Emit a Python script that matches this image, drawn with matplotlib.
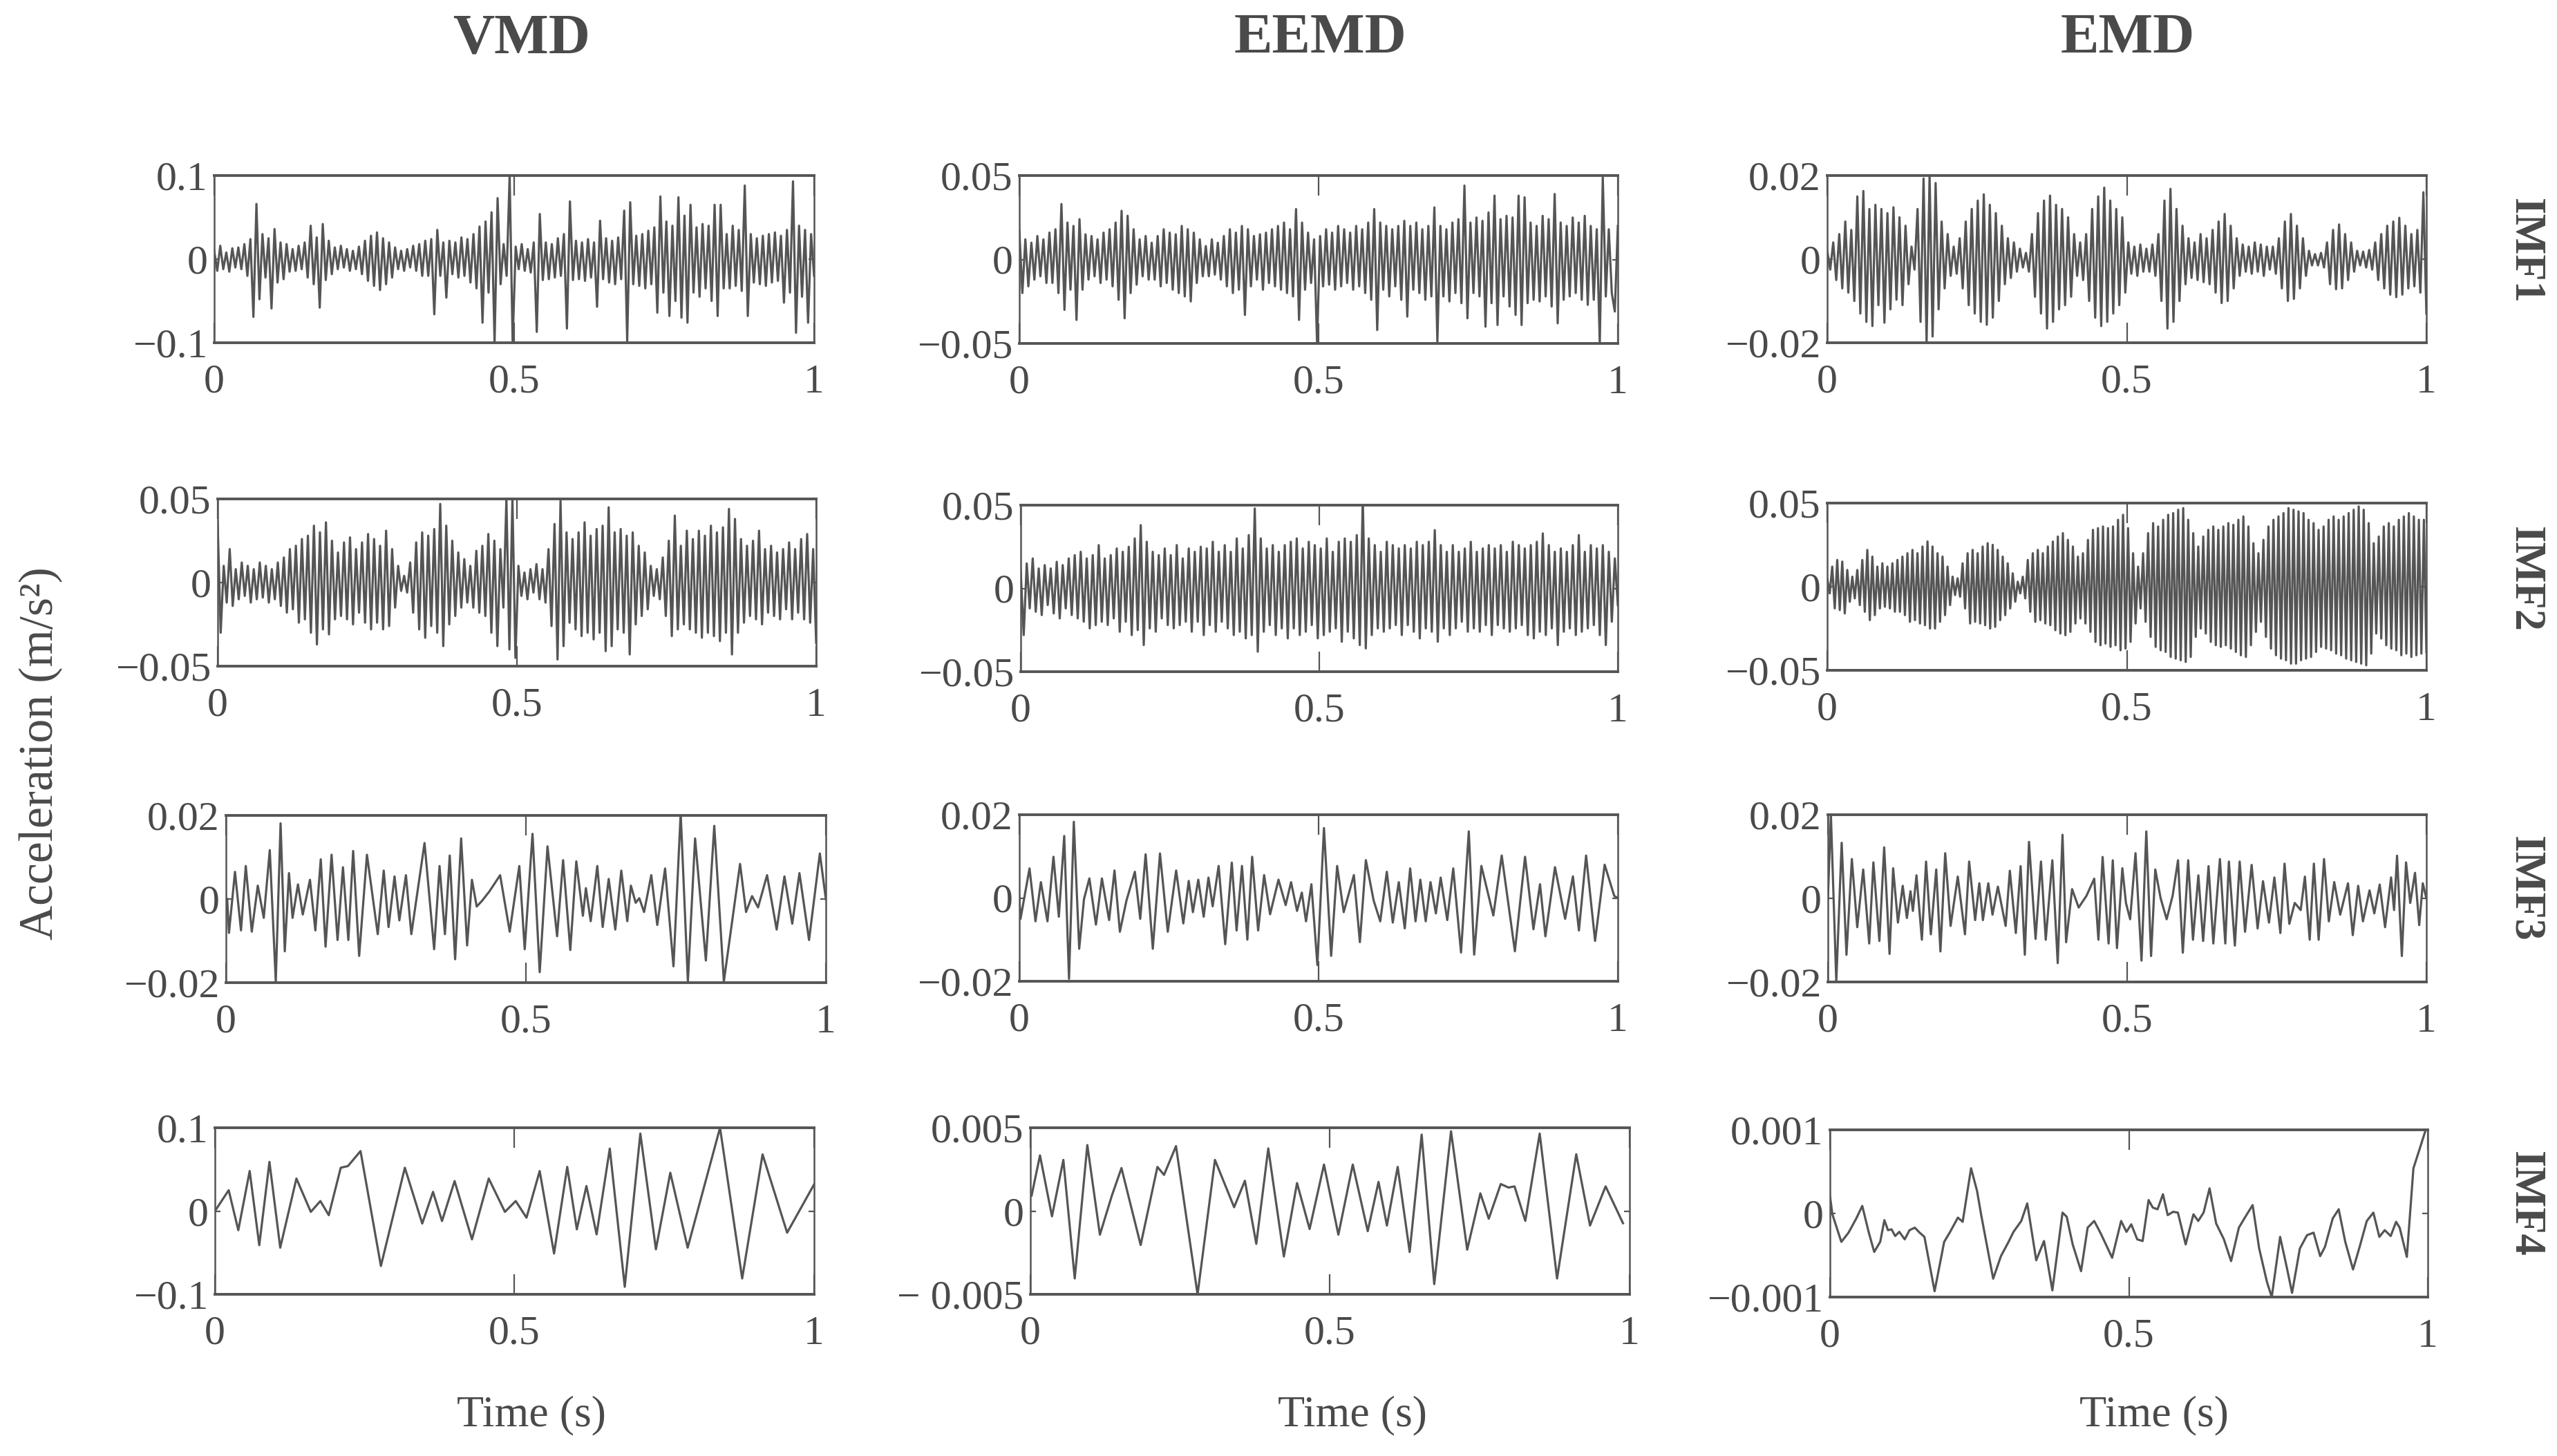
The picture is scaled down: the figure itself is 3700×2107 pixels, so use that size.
import matplotlib.pyplot as plt
import numpy as np

plt.rcParams["font.family"] = ["Liberation Serif", "DejaVu Serif"]

INK = "#555555"
TEXT = "#4a4a4a"
W, H = 3700, 2107

# ---------------------------------------------------------------------------
# Data.
# IMF1 / IMF2 are dense: successive extrema, evenly spaced over 0-1 s.
# IMF3 / IMF4: extrema with their time in ms.
# ---------------------------------------------------------------------------

# x1e-3 m/s^2
vmd_imf1 = [
    10, -14, 16, -12, 8, -15, 13, -10, 14, -12,
    18, -20, 24, -69, 66, -48, 30, -22, 25, -59,
    36, -28, 20, -24, 18, -15, 12, -14, 16, -12,
    20, -22, 40, -30, 26, -58, 42, -25, 22, -18,
    14, -12, 16, -10, 12, -14, 10, -12, 15, -18,
    22, -26, 28, -32, 32, -37, 25, -30, 20, -22,
    14, -12, 10, -14, 12, -10, 16, -14, 18, -20,
    22, -20, 24, -66, 35, -20, 20, -46, 22, -18,
    20, -22, 26, -20, 24, -28, 30, -35, 39, -76,
    45, -40, 56, -100, 73, -30, 18, -20, 100, -100,
    15, -12, 18, -14, 12, -16, 20, -87, 54, -25,
    20, -24, 18, -22, 25, -20, 30, -83, 69, -25,
    22, -24, 20, -26, 24, -22, 20, -57, 46, -24,
    25, -28, 22, -30, 26, -24, 58, -98, 68, -30,
    28, -32, 30, -35, 34, -30, 38, -64, 75, -40,
    45, -68, 40, -50, 74, -70, 52, -76, 65, -40,
    38, -45, 42, -35, 40, -50, 65, -68, 65, -35,
    30, -35, 40, -32, 35, -38, 88, -68, 30, -28,
    25, -30, 28, -32, 30, -28, 32, -26, 28, -52,
    35, -40, 93, -88, 40, -45, 35, -76, 30, -20,
]

# x1e-3 m/s^2
eemd_imf1 = [
    17, -20, 12, -16, 10, -12, 14, -10, 12, -14,
    16, -14, 18, -20, 33, -30, 22, -18, 20, -36,
    24, -18, 15, -12, 14, -10, 12, -14, 16, -12,
    18, -16, 22, -24, 29, -35, 26, -20, 18, -15,
    12, -10, 14, -12, 10, -12, 14, -16, 18, -14,
    16, -18, 15, -20, 20, -22, 18, -25, 16, -14,
    12, -10, 8, -10, 12, -9, 10, -12, 14, -16,
    18, -20, 16, -18, 20, -33, 18, -16, 14, -12,
    15, -18, 16, -14, 18, -16, 20, -18, 22, -20,
    18, -22, 30, -36, 22, -18, 16, -14, 12, -50,
    14, -16, 18, -15, 16, -18, 20, -16, 18, -14,
    16, -18, 20, -16, 18, -20, 22, -24, 30, -42,
    22, -18, 20, -22, 18, -16, 20, -24, 23, -34,
    20, -18, 22, -20, 18, -24, 20, -22, 31, -49,
    20, -22, 18, -25, 22, -20, 24, -26, 44, -35,
    22, -20, 25, -22, 23, -40, 28, -26, 38, -39,
    24, -22, 26, -28, 25, -33, 38, -39, 37, -26,
    22, -24, 20, -25, 26, -22, 24, -28, 39, -38,
    22, -24, 20, -22, 25, -20, 22, -24, 26, -27,
    20, -24, 18, -50, 49, -22, 18, -20, -31, 20,
]

# x1e-4 m/s^2
emd_imf1 = [
    20, -25, 40, -50, 60, -70, 90, -80, 70, -100,
    150, -130, 163, -150, 120, -160, 130, -110, 120, -152,
    110, -120, 124, -97, 100, -110, 80, -60, 30, -25,
    120, -150, 193, -199, 200, -185, 182, -120, 90, -70,
    60, -40, 30, -35, 50, -70, 90, -110, 120, -130,
    140, -150, 155, -157, 130, -140, 110, -100, 80, -60,
    50, -45, 40, -30, 25, -20, 15, -30, 60, -90,
    110, -130, 140, -166, 152, -150, 130, -120, 120, -110,
    100, -90, 60, -40, 40, -50, 60, -100, 120, -140,
    150, -160, 171, -150, 140, -130, 120, -110, 100, -80,
    40, -35, 30, -40, 35, -30, 25, -30, 35, -40,
    60, -100, 140, -166, 168, -150, 120, -100, 80, -60,
    50, -45, 40, -50, 60, -55, 50, -60, 70, -80,
    90, -105, 108, -100, 80, -70, 50, -40, 35, -30,
    30, -35, 40, -30, 35, -40, 30, -25, 30, -35,
    50, -70, 90, -100, 108, -95, 80, -70, 50, -40,
    20, -15, 12, -15, 15, -20, 40, -60, 70, -72,
    83, -70, 60, -50, 40, -30, 20, -15, 18, -20,
    22, -25, 40, -50, 60, -70, 80, -85, 90, -91,
    99, -85, 80, -70, 60, -65, 70, -80, 160, -130,
]

# x1e-3 m/s^2
vmd_imf2 = [
    35, -30, 10, -12, 20, -14, 8, -10, 12, -8,
    10, -12, 8, -10, 12, -9, 10, -12, 8, -10,
    12, -14, 15, -18, 20, -16, 22, -24, 26, -22,
    28, -30, 34, -37, 30, -28, 36, -31, 25, -22,
    18, -20, 24, -22, 27, -25, 20, -18, 24, -24,
    29, -28, 26, -24, 22, -28, 31, -26, 20, -15,
    10, -5, 4, -6, 12, -18, 24, -28, 30, -33,
    28, -26, 32, -30, 47, -38, 34, -25, 25, -20,
    18, -15, 14, -12, 10, -15, 19, -18, 22, -20,
    29, -30, 25, -38, 20, -15, 50, -40, 50, -45,
    10, -8, 6, -10, 8, -6, 11, -10, 8, -12,
    20, -26, 35, -46, 49, -38, 30, -24, 26, -28,
    30, -32, 36, -30, 28, -34, 32, -30, 34, -41,
    45, -38, 30, -28, 32, -30, 28, -43, 30, -25,
    22, -20, 18, -16, 10, -8, 8, -10, 15, -20,
    25, -32, 40, -28, 22, -25, 31, -28, 26, -30,
    31, -33, 28, -30, 34, -32, 30, -35, 33, -30,
    44, -43, 38, -30, 26, -24, 22, -20, 25, -22,
    31, -25, 20, -18, 22, -20, 18, -22, 20, -16,
    24, -22, 20, -18, 26, -22, 29, -24, 20, -36,
]

# x1e-3 m/s^2
eemd_imf2 = [
    10, -28, 15, -12, 18, -14, 12, -16, 14, -10,
    12, -15, 16, -18, 14, -12, 18, -16, 20, -18,
    22, -20, 18, -24, 20, -22, 26, -20, 18, -22,
    20, -18, 24, -26, 22, -20, 25, -28, 30, -25,
    38, -34, 28, -24, 22, -26, 20, -18, 24, -22,
    20, -24, 26, -22, 18, -20, 24, -26, 22, -20,
    25, -28, 24, -22, 28, -26, 22, -20, 26, -24,
    22, -28, 30, -26, 24, -30, 32, -28, 48, -38,
    30, -26, 24, -22, 26, -28, 22, -24, 26, -30,
    28, -24, 30, -28, 24, -26, 28, -22, 26, -30,
    24, -28, 30, -26, 22, -24, 28, -32, 30, -26,
    28, -30, 32, -34, 54, -36, 30, -28, 26, -24,
    22, -26, 28, -24, 26, -22, 24, -28, 26, -22,
    24, -26, 28, -30, 26, -24, 28, -26, 35, -32,
    26, -24, 22, -28, 26, -24, 22, -20, 24, -26,
    28, -24, 22, -26, 24, -22, 26, -28, 24, -22,
    26, -24, 22, -26, 28, -24, 26, -22, 24, -28,
    26, -30, 28, -26, 33, -28, 26, -24, 22, -34,
    24, -26, 22, -24, 26, -28, 32, -26, 22, -24,
    26, -22, 24, -28, 26, -34, 22, -20, 18, -10,
]

# x1e-3 m/s^2
emd_imf2 = [
    5, -4, 12, -13, 16, -14, 15, -16, 10, -9,
    6, -7, 10, -11, 16, -15, 22, -20, 18, -17,
    12, -13, 14, -12, 12, -13, 14, -15, 16, -15,
    18, -17, 20, -21, 22, -20, 20, -22, 24, -23,
    27, -25, 24, -25, 20, -21, 18, -17, 12, -11,
    6, -5, 5, -6, 14, -13, 20, -22, 22, -21,
    20, -22, 24, -23, 26, -25, 25, -24, 22, -20,
    18, -17, 14, -13, 8, -9, 3, -4, 6, -7,
    16, -15, 20, -21, 22, -20, 20, -22, 24, -23,
    27, -26, 30, -28, 32, -29, 28, -27, 24, -22,
    18, -19, 20, -22, 28, -27, 34, -33, 35, -35,
    36, -34, 35, -36, 36, -35, 40, -38, 43, -37,
    35, -33, 20, -22, 12, -13, 20, -21, 32, -30,
    38, -36, 36, -38, 40, -39, 43, -42, 44, -43,
    46, -44, 47, -45, 40, -42, 32, -30, 24, -25,
    30, -28, 34, -33, 36, -35, 34, -36, 36, -35,
    38, -37, 37, -39, 40, -41, 42, -42, 36, -35,
    26, -27, 20, -21, 28, -30, 36, -37, 40, -41,
    42, -43, 44, -44, 47, -46, 46, -46, 45, -44,
    44, -43, 40, -42, 38, -39, 34, -36, 36, -37,
    40, -38, 42, -40, 40, -41, 42, -43, 44, -44,
    46, -45, 48, -46, 46, -47, 38, -40, 26, -28,
    30, -31, 36, -35, 38, -37, 36, -38, 40, -41,
    42, -40, 44, -42, 42, -41, 40, -40, 40, -39,
]

# IMF3, x1e-4 m/s^2, times in ms
vmd_imf3_ms = [
    2, 5, 15, 25, 33, 43, 53, 63, 73, 83, 91, 98, 105, 111, 120, 128, 140,
    149, 158, 166, 176, 186, 195, 204, 212, 222, 235, 253, 263, 271, 281,
    289, 300, 309, 331, 347, 356, 365, 373, 382, 392, 402, 410, 418, 427,
    439, 457, 473, 489, 498, 511, 523, 536, 552, 562, 574, 584, 595, 600,
    608, 619, 628, 638, 649, 659, 669, 675, 683, 689, 697, 709, 719, 732,
    746, 758, 770, 782, 800, 814, 830, 857, 867, 877, 887, 902, 918, 931,
    944, 956, 972, 990, 1000,
]
vmd_imf3 = [
    0, -81, 65, -75, 79, -78, 32, -45, 117, -197, 181, -125, 62, -45, 35,
    -37, 46, -75, 95, -114, 106, -98, 76, -98, 115, -136, 106, -84, 68, -67,
    54, -51, 57, -84, 134, -120, 79, -84, 104, -144, 145, -111, 46, -18, -4,
    18, 57, -78, 79, -120, 156, -175, 126, -89, 93, -122, 90, -40, 26, -53,
    79, -67, 48, -73, 68, -53, 32, -9, 2, -31, 57, -62, 73, -161, 205, -197,
    145, -147, 175, -197, 84, -31, 7, -20, 57, -73, 54, -59, 62, -98, 109, 0,
]

eemd_imf3_ms = [
    0, 2, 17, 27, 36, 47, 57, 66, 75, 83, 91, 100, 108, 117, 128, 138, 150,
    159, 168, 179, 193, 202, 211, 223, 235, 248, 262, 274, 283, 290, 299,
    308, 316, 323, 333, 344, 355, 363, 372, 381, 389, 399, 409, 419, 433,
    445, 454, 464, 472, 479, 488, 498, 509, 521, 531, 542, 559, 569, 579,
    592, 603, 614, 624, 634, 644, 653, 662, 670, 679, 687, 696, 704, 715,
    725, 738, 751, 760, 772, 792, 806, 828, 845, 859, 870, 879, 895, 912,
    925, 935, 947, 962, 978, 994, 1000,
]
eemd_imf3 = [
    0, -50, 71, -56, 38, -56, 99, -45, 149, -194, 183, -122, -3, 47, -64,
    47, -53, 66, -81, -6, 63, -50, 105, -122, 107, -81, 66, -61, 41, -34,
    44, -45, 49, -20, 77, -111, 85, -78, 77, -100, 99, -78, 55, -39, 44,
    -17, 38, -31, 13, -56, 33, -161, 168, -139, 77, -34, 55, -106, 91, -6,
    -56, 63, -59, 38, -73, 71, -56, 44, -56, 38, -37, 49, -53, 71, -131,
    160, -136, 77, -42, 102, -128, 99, -75, 33, -92, 74, -50, 52, -78, 102,
    -103, 80, 5, 0,
]

emd_imf3_ms = [
    0, 5, 14, 23, 31, 40, 49, 59, 69, 76, 86, 94, 103, 109, 117, 125, 132,
    138, 142, 148, 157, 164, 172, 181, 188, 196, 205, 217, 229, 236, 246,
    253, 259, 268, 275, 284, 297, 304, 314, 322, 329, 336, 347, 356, 364,
    375, 384, 392, 398, 408, 419, 432, 445, 452, 459, 469, 476, 483, 492,
    498, 505, 514, 524, 532, 540, 547, 556, 566, 576, 585, 593, 602, 610,
    619, 627, 636, 644, 655, 664, 670, 680, 688, 697, 708, 718, 727, 737,
    746, 756, 763, 771, 780, 790, 797, 805, 812, 820, 829, 837, 846, 856,
    869, 877, 886, 894, 905, 913, 922, 931, 941, 946, 951, 959, 966, 973,
    981, 988, 994, 1000,
]
emd_imf3 = [
    0, 199, -199, 133, -135, 94, -69, 69, -108, 86, -102, 122, -133, 72, -58,
    30, -47, 17, -30, 55, -99, 88, -86, 69, -127, 108, -66, 52, -86, 88, -52,
    36, -52, 36, -39, 28, -66, 66, -83, 77, -135, 135, -97, 88, -99, 91,
    -155, 152, -105, 22, -22, 6, 47, -99, 99, -108, 91, -119, 72, -11, -50,
    108, -149, 160, -138, 69, 0, -50, 6, 91, -130, 91, -99, 55, -102, 77,
    -108, 94, -108, 88, -113, 88, -80, 80, -72, 41, -58, 50, -83, 83, -61,
    -11, -28, 52, -99, 83, -99, 94, -55, 39, -39, 36, -88, 30, -55, 19, -36,
    33, -69, 50, -28, 102, -138, 86, -11, 61, -64, 36, 0,
]

# IMF4, times in ms
vmd_imf4_ms = [
    0, 23, 39, 58, 74, 91, 109, 136, 160, 176, 190, 210, 222, 243, 277, 317,
    346, 364, 379, 400, 429, 457, 484, 502, 520, 542, 566, 588, 604, 620,
    637, 659, 684, 710, 736, 760, 789, 843, 880, 914, 955, 1000,
]
vmd_imf4 = [  # x1e-3 m/s^2
    0, 25, -23, 48, -41, 59, -44, 39, -1, 12, -5, 52, 54, 72, -66, 52, -15,
    23, -12, 36, -34, 39, -1, 12, -8, 48, -51, 53, -22, 30, -28, 75, -91, 93,
    -46, 46, -44, 100, -81, 68, -26, 32,
]

eemd_imf4_ms = [
    2, 16, 36, 55, 74, 95, 116, 136, 152, 184, 212, 223, 243, 279, 308, 340,
    358, 377, 397, 423, 445, 466, 490, 514, 538, 563, 581, 595, 613, 633,
    653, 674, 702, 729, 751, 765, 785, 798, 808, 826, 850, 879, 911, 934,
    960, 989,
]
eemd_imf4 = [  # x1e-5 m/s^2
    93, 334, -32, 307, -405, 396, -142, 93, 258, -204, 265, 217, 390, -501,
    307, 23, 182, -197, 376, -273, 168, -108, 279, -142, 279, -121, 175, -87,
    265, -246, 459, -439, 479, -232, 106, -46, 162, 141, 148, -59, 465, -405,
    341, -87, 148, -73,
]

emd_imf4_ms = [
    0, 4, 19, 31, 44, 54, 65, 74, 84, 91, 97, 103, 109, 116, 125, 133, 142,
    150, 158, 175, 191, 201, 214, 222, 236, 246, 253, 273, 286, 298, 307,
    320, 330, 336, 345, 358, 372, 389, 396, 406, 420, 431, 442, 453, 472,
    487, 496, 504, 514, 523, 533, 540, 548, 557, 565, 574, 582, 595, 608,
    616, 625, 635, 646, 659, 671, 684, 694, 707, 718, 731, 739, 753, 764,
    773, 786, 798, 809, 820, 828, 841, 851, 862, 875, 886, 898, 909, 919,
    928, 938, 947, 953, 965, 976, 985, 997,
]
emd_imf4 = [  # x1e-5 m/s^2
    21, -1, -34, -23, -6, 9, -23, -46, -34, -8, -20, -19, -27, -22, -31, -20,
    -17, -23, -28, -93, -34, -22, -5, -10, 54, 27, -2, -78, -51, -35, -22,
    -9, 12, -15, -56, -33, -92, 1, -4, -37, -69, -17, -9, -24, -53, -9, -22,
    -13, -31, -33, 16, 7, 5, 23, -2, 2, 1, -37, -1, -9, 1, 30, -12, -31, -57,
    -17, -5, 10, -42, -82, -100, -28, -64, -95, -42, -26, -23, -51, -40, -6,
    5, -34, -67, -40, -9, 1, -28, -20, -27, -10, -17, -52, 54, 74, 101,
]

methods = ["VMD", "EEMD", "EMD"]
imfs = ["IMF1", "IMF2", "IMF3", "IMF4"]
y_limits = [
    [0.1, 0.05, 0.02],
    [0.05, 0.05, 0.05],
    [0.02, 0.02, 0.02],
    [0.1, 0.005, 0.001],
]
y_ticklabels = [
    [["\u22120.1", "0", "0.1"], ["\u22120.05", "0", "0.05"], ["\u22120.02", "0", "0.02"]],
    [["\u22120.05", "0", "0.05"]] * 3,
    [["\u22120.02", "0", "0.02"]] * 3,
    [["\u22120.1", "0", "0.1"], ["\u2212 0.005", "0", "0.005"], ["\u22120.001", "0", "0.001"]],
]
x_ticks = [0, 0.5, 1]
x_ticklabels = ["0", "0.5", "1"]

# (times in ms or None for evenly spaced, values, unit)
series = [
    [(None, vmd_imf1, 1e-3), (None, eemd_imf1, 1e-3), (None, emd_imf1, 1e-4)],
    [(None, vmd_imf2, 1e-3), (None, eemd_imf2, 1e-3), (None, emd_imf2, 1e-3)],
    [(vmd_imf3_ms, vmd_imf3, 1e-4), (eemd_imf3_ms, eemd_imf3, 1e-4), (emd_imf3_ms, emd_imf3, 1e-4)],
    [(vmd_imf4_ms, vmd_imf4, 1e-3), (eemd_imf4_ms, eemd_imf4, 1e-5), (emd_imf4_ms, emd_imf4, 1e-5)],
]

# axes boxes in pixels: left, top, right, bottom
boxes = [
    [(310, 254, 1178, 496), (1475, 254, 2341, 497), (2644, 254, 3511, 496)],
    [(315, 722, 1181, 964), (1477, 731, 2341, 972), (2644, 728, 3511, 970)],
    [(327, 1180, 1195, 1422), (1475, 1179, 2341, 1420), (2645, 1179, 3511, 1421)],
    [(311, 1632, 1178, 1873), (1491, 1632, 2358, 1873), (2648, 1635, 3513, 1877)],
]

fig = plt.figure(figsize=(W / 100, H / 100), dpi=100)

for r in range(4):
    for c in range(3):
        l, t, rr, b = boxes[r][c]
        ax = fig.add_axes([l / W, 1 - b / H, (rr - l) / W, (b - t) / H])
        times, vals, unit = series[r][c]
        y = np.asarray(vals, dtype=float) * unit
        x = np.linspace(0, 1, len(y)) if times is None else np.asarray(times) / 1000.0
        lw = 2.3 if r < 2 else 2.3
        ax.plot(x, y, color=INK, lw=lw, solid_joinstyle="round")
        lim = y_limits[r][c]
        ax.set_xlim(0, 1)
        ax.set_ylim(-lim, lim)
        ax.set_xticks(x_ticks)
        ax.set_xticklabels(x_ticklabels)
        ax.set_yticks([-lim, 0, lim])
        ax.set_yticklabels(y_ticklabels[r][c])
        ax.tick_params(axis="x", direction="in", length=21, width=1.6, top=True,
                       pad=22, labelsize=43, color=INK, labelcolor=TEXT)
        ax.tick_params(axis="y", direction="in", length=6, width=1.6, right=True,
                       pad=7, labelsize=43, color=INK, labelcolor=TEXT)
        for side in ("top", "bottom"):
            ax.spines[side].set_linewidth(2.8)
            ax.spines[side].set_color(INK)
        for side in ("left", "right"):
            ax.spines[side].set_linewidth(1.8)
            ax.spines[side].set_color(INK)

# column titles
for name, xc in zip(methods, [755, 1911, 3079]):
    fig.text(xc / W, 1 - 57 / H, name, ha="center", va="center",
             fontsize=60, fontweight="bold", color=TEXT)

# row labels
for name, yc in zip(imfs, [363, 838, 1286, 1742]):
    fig.text(3653 / W, 1 - yc / H, name, ha="center", va="center", rotation=270,
             fontsize=45, fontweight="bold", color=TEXT)

# axis labels
fig.text(59 / W, 1 - 1090 / H, "Acceleration (m/s\u00b2)", ha="center", va="center",
         rotation=90, fontsize=50, color=TEXT)
for xc in [769, 1957, 3117]:
    fig.text(xc / W, 1 - 2048 / H, "Time (s)", ha="center", va="center",
             fontsize=46, color=TEXT)

fig.savefig("out.png", dpi=100, facecolor="white")
